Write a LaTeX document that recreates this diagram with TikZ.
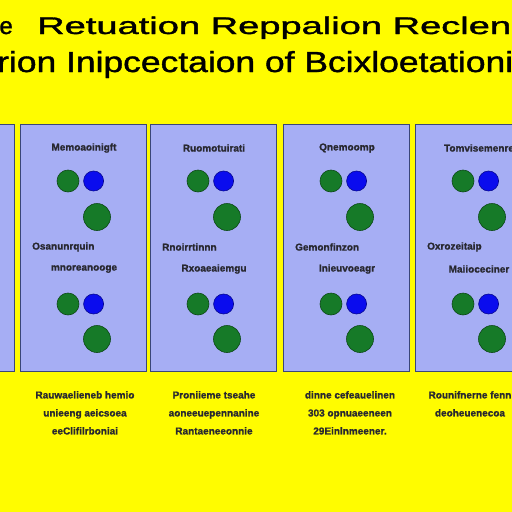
\documentclass[tikz,border=0pt]{standalone}
\usepackage{fontspec}
\setmainfont{Liberation Sans}
\newfontfamily\heavyfont[FakeBold=1.2]{Liberation Sans}
\usepackage{graphicx}
\usetikzlibrary{positioning}
\definecolor{bgyellow}{RGB}{255,252,0}
\definecolor{panelfill}{RGB}{166,174,244}
\definecolor{paneledge}{RGB}{58,70,120}
\definecolor{dotgreen}{RGB}{22,122,40}
\definecolor{dotblue}{RGB}{10,12,238}
\definecolor{inkgray}{RGB}{40,40,48}
\tikzset{
  panel/.style={draw=paneledge, fill=panelfill, line width=0.9pt, minimum width=126pt, minimum height=247pt, inner sep=0pt},
  gdot/.style={draw=dotgreen!60!black, fill=dotgreen, circle, minimum size=22pt, inner sep=0pt, line width=0.6pt},
  bdot/.style={draw=dotblue!60!black, fill=dotblue, circle, minimum size=20pt, inner sep=0pt, line width=0.6pt},
  bigdot/.style={gdot, minimum size=27pt},
  plbl/.style={font=\heavyfont\bfseries\fontsize{10}{10}\selectfont, text=inkgray, inner sep=0pt},
  note/.style={font=\heavyfont\bfseries\fontsize{10}{18}\selectfont, text=inkgray, align=center, inner sep=0pt, anchor=north},
  ttl/.style={font=\heavyfont\fontsize{#1}{#1}\selectfont, inner sep=0pt},
}

\begin{document}
\begin{tikzpicture}[x=1pt, y=-1pt]
  \useasboundingbox (0,0) rectangle (512,512);
  \clip (0,0) rectangle (512,512);
  \fill[bgyellow] (0,0) rectangle (512,512);

  % title
  \node[ttl=24, anchor=base east] (t0) at (13,34) {re};
  \node[ttl=24, anchor=base west] (t1) at (37,34) {\resizebox{474pt}{\height}{Retuation Reppalion Reclen}};
  \node[ttl=29, anchor=base west] (t2) at (-3,72) {\resizebox{516pt}{\height}{rion Inipcectaion of Bcixloetationi}};

  % panels
  \node[panel, anchor=north east] (p0) at (15,124) {};
  \foreach \n/\px/\top/\mid/\sub in {1/20/Memoaoinigft/Osanunrquin/mnoreanooge,
                                     2/150/Ruomotuirati/Rnoirrtinnn/Rxoaeaiemgu,
                                     3/283/Qnemoomp/Gemonfinzon/Inieuvoeagr,
                                     4/415/Tomvisemenre/Oxrozeitaip/Maiioceciner} {
    \node[panel, anchor=north west] (p\n) at (\px,124) {};
    \node[plbl] (top\n) at (\px+64,148) {\top};
    \node[gdot] (ga\n) at (\px+48,181) {};
    \node[bdot, right=4pt of ga\n] (ba\n) {};
    \node[bigdot] (gb\n) at (\px+77,217) {};
    \node[plbl, anchor=west] (mid\n) at (\px+12,247) {\mid};
    \node[plbl] (sub\n) at (\px+64,269) {\sub};
    \node[gdot] (gc\n) at (\px+48,304) {};
    \node[bdot, right=4pt of gc\n] (bc\n) {};
    \node[bigdot] (gd\n) at (\px+77,339) {};
  }

  % notes under the panels
  \node[note] (n1) at (85,391) {Rauwaelieneb hemio\\unieeng aeicsoea\\eeClifilrboniai};
  \node[note] (n2) at (214,391) {Proniieme tseahe\\aoneeuepennanine\\Rantaeneeonnie};
  \node[note] (n3) at (350,391) {dinne cefeauelinen\\303 opnuaeeneen\\29Einlnmeener.};
  \node[note] (n4) at (470,391) {Rounifnerne fenn\\deoheuenecoa};
\end{tikzpicture}
\end{document}
